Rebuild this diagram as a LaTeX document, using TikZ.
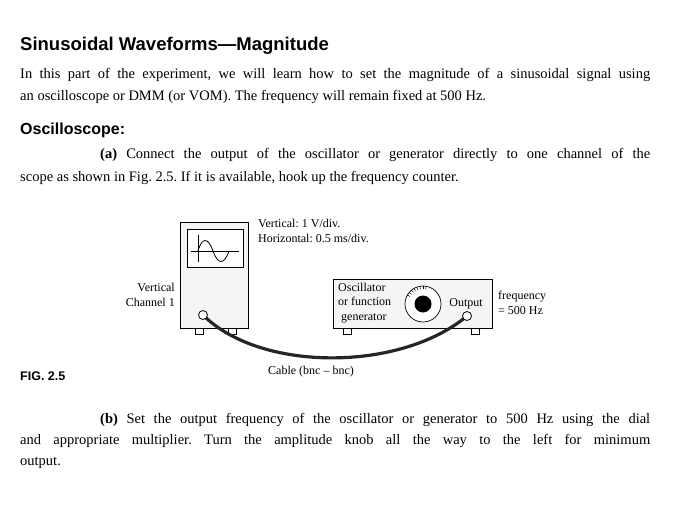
\documentclass[tikz,border=0pt]{standalone}
\usepackage{fontspec}
\setmainfont{Liberation Serif}
\newfontfamily\hsans{Liberation Sans}
\frenchspacing
\begin{document}
\begin{tikzpicture}[x=1pt,y=-1pt,
  body/.style={anchor=west,inner sep=0,font=\fontsize{14.5}{17}\selectfont},
  lab/.style={inner sep=0,font=\fontsize{12}{14.5}\selectfont,align=left},
  head/.style={anchor=west,inner sep=0,font=\hsans\bfseries\fontsize{16}{18}\selectfont},
  box/.style={draw,line width=0.8pt,fill=gray!8},
  foot/.style={draw,line width=0.7pt,fill=white},
  conn/.style={draw,line width=0.8pt,fill=white}]
\useasboundingbox (0,0) rectangle (700,517);
\fill[white] (0,0) rectangle (700,517);
\node[head,font=\hsans\bfseries\fontsize{18.5}{20}\selectfont] (h1) at (20,46) {Sinusoidal Waveforms\textemdash Magnitude};
\node[body] (p1) at (20,75) {\makebox[630pt][s]{In this part of the experiment, we will learn how to set the magnitude of a sinusoidal signal using}};
\node[body] (p2) at (20,97) {an oscilloscope or DMM (or VOM). The frequency will remain fixed at 500 Hz.};
\node[head] (h2) at (20,130) {Oscilloscope:};
\node[body] (a1) at (100,155) {\makebox[550pt][s]{\textbf{(a)} Connect the output of the oscillator or generator directly to one channel of the}};
\node[body] (a2) at (20,178) {scope as shown in Fig.~2.5. If it is available, hook up the frequency counter.};
\node[head,font=\hsans\bfseries\fontsize{12.5}{14}\selectfont] (fig) at (20,376) {FIG. 2.5};
\node[body] (b1) at (100,420) {\makebox[550pt][s]{\textbf{(b)} Set the output frequency of the oscillator or generator to 500 Hz using the dial}};
\node[body] (b2) at (20,441) {\makebox[630pt][s]{and appropriate multiplier. Turn the amplitude knob all the way to the left for minimum}};
\node[body] (b3) at (20,463) {output.};
% scope
\draw[foot] (195,328) rectangle (203,334);
\draw[foot] (228,328) rectangle (236,334);
\draw[box] (180,222) rectangle (248,328);
\draw[line width=0.8pt,fill=white] (187,229) rectangle (243,267);
\draw[line width=0.6pt] (191,251) -- (239,251);
\draw[line width=0.6pt] (198,235) -- (198,262);
\draw[line width=0.8pt] (198,251) .. controls (202,237) and (208,237) .. (213,251) .. controls (218,265) and (224,265) .. (229,251);
% generator
\draw[foot] (343,328) rectangle (351,334);
\draw[foot] (471,328) rectangle (479,334);
\draw[box] (333,279) rectangle (492,328);
\draw[line width=0.7pt,fill=white] (423,304) circle (18);
\foreach \a in {30,40,...,100} \draw[line width=0.5pt] (423,304) ++(\a:-15) -- ++(\a:-3);
\fill (423,304) circle (8.5);
% cable
\coordinate (s) at (203,315);
\coordinate (g) at (467,316);
\draw[line width=3.2pt,black!85] (s) .. controls (260,372) and (400,372) .. (g);
\draw[conn] (s) circle (4.5);
\draw[conn] (g) circle (4.5);
% labels
\node[lab,anchor=west] (v) at (258,231) {Vertical: 1 V/div.\\Horizontal: 0.5 ms/div.};
\node[lab,anchor=east,align=right] (vc) at (175,295) {Vertical\\Channel 1};
\node[lab,anchor=west,align=left] (osc) at (338,303) {Oscillator\\or function\\\ generator};
\node[lab,anchor=center] (out) at (466,304) {Output};
\node[lab,anchor=west] (fr) at (498,303) {frequency\\= 500 Hz};
\node[lab] (cab) at (311,372) {Cable (bnc -- bnc)};
\end{tikzpicture}
\end{document}
